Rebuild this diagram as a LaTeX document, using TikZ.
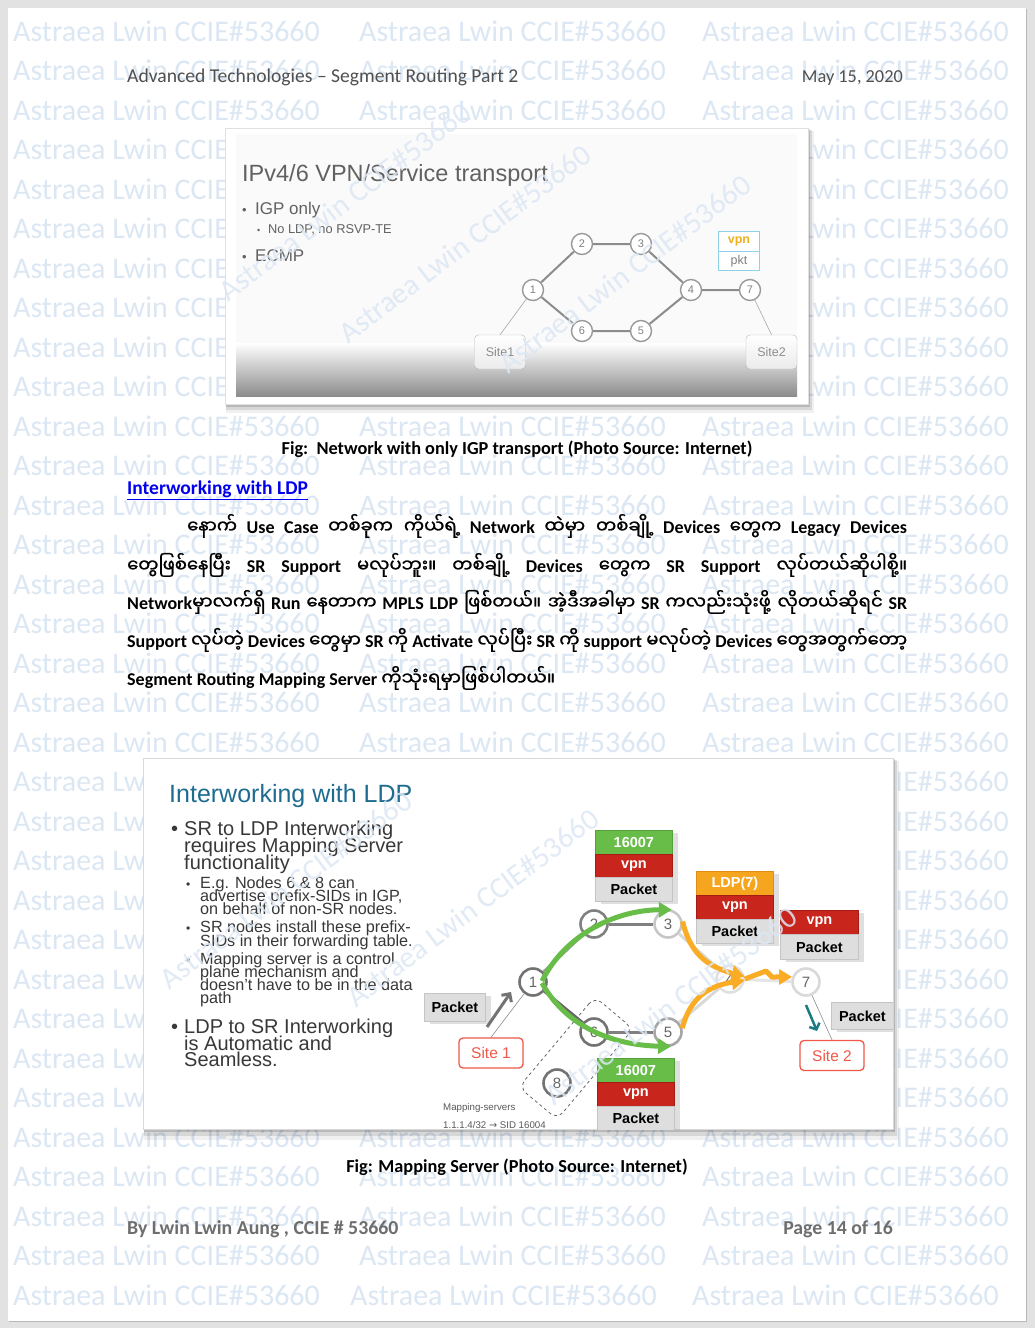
\documentclass[tikz,border=0pt]{standalone}
\usepackage{fontspec}
\setmainfont{Carlito}
\newfontfamily\arialf{Liberation Sans}
\newfontfamily\mmfont[Script=Myanmar,AutoFakeBold=1.2]{Noto Sans Myanmar UI}
\newfontfamily\dvs{DejaVu Sans}
\usetikzlibrary{arrows.meta,shadows,calc}
\definecolor{wm}{RGB}{220,231,244}
\definecolor{pageg}{RGB}{226,226,226}
\definecolor{hdr}{RGB}{80,80,80}
\definecolor{ftr}{RGB}{110,110,110}
\definecolor{linkb}{RGB}{0,0,238}
\definecolor{slidet}{RGB}{31,108,145}
\definecolor{gr}{RGB}{104,189,73}
\definecolor{grd}{RGB}{84,160,58}
\definecolor{rd}{RGB}{200,38,28}
\definecolor{rdd}{RGB}{165,28,20}
\definecolor{og}{RGB}{246,166,30}
\definecolor{ogd}{RGB}{225,140,20}
\definecolor{pk}{RGB}{222,222,222}
\definecolor{pkd}{RGB}{196,196,196}
\definecolor{site}{RGB}{240,88,72}
\definecolor{tealc}{RGB}{26,122,128}
\definecolor{arr}{RGB}{249,172,36}
\definecolor{vpnb}{RGB}{140,210,232}
\definecolor{vpno}{RGB}{240,176,30}
\tikzset{
  wmk/.style={anchor=west,inner sep=0pt,text=wm,font=\fontsize{30}{30}\selectfont},
  wmd/.style={anchor=west,inner sep=0pt,text=wm,rotate=37,opacity=.85,font=\fontsize{30}{30}\selectfont},
  bodytxt/.style={anchor=base west,inner sep=0pt,font=\bfseries\fontsize{18}{18}\selectfont},
  tslide/.style={anchor=base west,inner sep=0pt,text=black!62},
  tnode/.style={circle,draw=black!40,line width=1.4pt,fill=white,minimum size=21pt,inner sep=0pt,text=black!50,font=\arialf\fontsize{11}{11}\selectfont},
  tlink/.style={line width=2pt,draw=black!45},
  tsite/.style={rounded corners=4pt,draw=black!28,top color=white,bottom color=black!8,minimum width=51pt,minimum height=34pt,inner sep=0pt,text=black!45,font=\arialf\fontsize{12.5}{12.5}\selectfont},
  tvp/.style={draw=vpnb,line width=1.3pt,fill=white,minimum width=41pt,minimum height=19.5pt,inner sep=0pt,font=\arialf\fontsize{12.5}{12.5}\selectfont},
  bmain/.style={anchor=base west,inner sep=0pt,text=black!78,font=\arialf\fontsize{20}{20}\selectfont},
  bsub/.style={anchor=base west,inner sep=0pt,text=black!78,font=\arialf\fontsize{16.2}{16.2}\selectfont},
  bnode/.style={circle,line width=2.6pt,fill=white,minimum size=27pt,inner sep=0pt,text=black!60,font=\arialf\fontsize{15}{15}\selectfont},
  stk/.style={anchor=north west,minimum width=77pt,minimum height=23.5pt,inner sep=0pt,line width=.8pt,font=\arialf\bfseries\fontsize{14.5}{14.5}\selectfont,drop shadow={shadow xshift=6pt,shadow yshift=-3pt,opacity=.25}},
  sgreen/.style={stk,fill=gr,draw=grd,text=white},
  sred/.style={stk,fill=rd,draw=rdd,text=white},
  sorange/.style={stk,fill=og,draw=ogd,text=white},
  sgray/.style={stk,fill=pk,draw=pkd,text=black},
  bsite/.style={rounded corners=4pt,draw=site,line width=1.3pt,fill=white,text=site,minimum width=64pt,minimum height=30pt,inner sep=0pt,font=\arialf\fontsize{15.5}{15.5}\selectfont},
  garr/.style={line width=5pt,draw=gr,-{Triangle[length=13pt,width=15pt]}},
  oarr/.style={line width=5pt,draw=arr,line join=round,-{Triangle[length=13pt,width=15pt]}},
  blink/.style={line width=3pt}
}
\begin{document}
\begin{tikzpicture}[x=1pt,y=-1pt]
\useasboundingbox (0,0) rectangle (1035,1328);
\fill[pageg] (0,0) rectangle (1035,1328);
\fill[black!28] (9,9) rectangle (1027,1322);
\fill[white] (8,8) rectangle (1026,1321);

% ---------- page watermark ----------
\foreach \r in {0,...,31}{
  \foreach \c/\k in {13/a,359/b,702/c}{
    \node[wmk] (wm-\r-\k) at ({\c},{31+39.5*\r}) {Astraea Lwin CCIE\#53660};
  }
}
\foreach \c/\k in {13/a,350/b,692/c}{
  \node[wmk] (wm-32-\k) at ({\c},1295) {Astraea Lwin CCIE\#53660};
}

% ---------- header ----------
\node[anchor=base west,inner sep=0pt,text=hdr,font=\fontsize{19.6}{19.6}\selectfont] (hdrL) at (127,82) {Advanced Technologies – Segment Routing Part 2};
\node[anchor=base east,inner sep=0pt,text=hdr,font=\fontsize{18.3}{18.3}\selectfont] (hdrR) at (903,82) {May 15, 2020};

% ---------- top figure ----------
\fill[black,opacity=.06] (226,131) rectangle (814,413);
\fill[black,opacity=.10] (226,130) rectangle (812,410);
\fill[black,opacity=.14] (226,129) rectangle (810,407);
\fill[white] (225,128) rectangle (808,404);
\draw[black!12] (225,128) rectangle (808,404);
\fill[black!2] (236,134) rectangle (797,396);
\shade[top color=white,bottom color=black!45] (236,343) rectangle (797,396);

\node[tslide,font=\arialf\fontsize{23.5}{23.5}\selectfont] (ttl) at (242,181) {IPv4/6 VPN/Service transport};
\node[tslide,font=\arialf\fontsize{13}{13}\selectfont] (tbu1) at (242,214) {•};
\node[tslide,font=\arialf\fontsize{17}{17}\selectfont] (tb1) at (255,214) {IGP only};
\node[tslide,font=\arialf\fontsize{9}{9}\selectfont] (tbu2) at (257,233) {•};
\node[tslide,font=\arialf\fontsize{12.8}{12.8}\selectfont] (tb2) at (268,233) {No LDP, no RSVP-TE};
\node[tslide,font=\arialf\fontsize{13}{13}\selectfont] (tbu3) at (242,261) {•};
\node[tslide,font=\arialf\fontsize{17}{17}\selectfont] (tb3) at (255,261) {ECMP};

\node[tnode] (t1) at (533,290) {1};
\node[tnode] (t2) at (582,244) {2};
\node[tnode] (t3) at (641,244) {3};
\node[tnode] (t4) at (691,290) {4};
\node[tnode] (t7) at (750,290) {7};
\node[tnode] (t6) at (582,331) {6};
\node[tnode] (t5) at (641,331) {5};
\node[tsite] (ts1) at (500,352) {Site1};
\node[tsite] (ts2) at (771.5,352) {Site2};
\draw[tlink] (t1)--(t2) (t2)--(t3) (t3)--(t4) (t1)--(t6) (t6)--(t5) (t5)--(t4) (t4)--(t7);
\draw[black!35,line width=.6pt] (t1)--(ts1.north) (t7)--(ts2.north);
\node[tvp,text=vpno,font=\arialf\bfseries\fontsize{12.5}{12.5}\selectfont] (tvpn) at (739,241.5) {vpn};
\node[tvp,text=black!50] (tpkt) at (739,261) {pkt};

% ---------- caption 1, heading, paragraph ----------
\node[anchor=base,inner sep=0pt,font=\bfseries\fontsize{18.3}{18.3}\selectfont] (cap1) at (517,454) {Fig:\ \ Network with only IGP transport (Photo Source: Internet)};
\node[anchor=base west,inner sep=0pt,text=linkb,font=\bfseries\fontsize{19.5}{19.5}\selectfont] (link) at (127,494) {\underline{Interworking with LDP}};

\node[bodytxt] (p1) at (187,533) {\makebox[720pt][s]{{\mmfont နောက်} Use Case {\mmfont တစ်ခုက ကိုယ်ရဲ့} Network {\mmfont ထဲမှာ တစ်ချို့} Devices {\mmfont တွေက} Legacy Devices}};
\node[bodytxt] (p2) at (127,572) {\makebox[780pt][s]{{\mmfont တွေဖြစ်နေပြီး} SR Support {\mmfont မလုပ်ဘူး။} {\mmfont တစ်ချို့} Devices {\mmfont တွေက} SR Support {\mmfont လုပ်တယ်ဆိုပါစို့။}}};
\node[bodytxt] (p3) at (127,609) {\makebox[780pt][s]{Network{\mmfont မှာလက်ရှိ} Run {\mmfont နေတာက} MPLS LDP {\mmfont ဖြစ်တယ်။ အဲ့ဒီအခါမှာ} SR {\mmfont ကလည်းသုံးဖို့ လိုတယ်ဆိုရင်} SR}};
\node[bodytxt] (p4) at (127,647) {\makebox[780pt][s]{Support {\mmfont လုပ်တဲ့} Devices {\mmfont တွေမှာ} SR {\mmfont ကို} Activate {\mmfont လုပ်ပြီး} SR {\mmfont ကို} support {\mmfont မလုပ်တဲ့} Devices {\mmfont တွေအတွက်တော့}}};
\node[bodytxt] (p5) at (127,685) {Segment Routing Mapping Server {\mmfont ကိုသုံးရမှာဖြစ်ပါတယ်။}};

% ---------- bottom figure ----------
\fill[black,opacity=.06] (144,761) rectangle (899,1140);
\fill[black,opacity=.10] (144,760) rectangle (897,1136);
\fill[black,opacity=.14] (144,759) rectangle (895,1132);
\fill[white] (143,758) rectangle (893,1129);
\draw[black!15] (143,758) rectangle (893,1129);
\begin{scope}
\clip (143,758) rectangle (893,1129);
\node[anchor=base west,inner sep=0pt,text=slidet,font=\arialf\fontsize{25}{25}\selectfont] (btl) at (169,802) {Interworking with LDP};
\node[bmain] (bu1) at (171,835) {•};
\node[bmain] (m1a) at (184,835) {SR to LDP Interworking};
\node[bmain] (m1b) at (184,852) {requires Mapping Server};
\node[bmain] (m1c) at (184,869) {functionality};
\node[bsub,font=\arialf\fontsize{12}{12}\selectfont] (su1) at (186,888) {•};
\node[bsub] (s1a) at (200,888) {E.g. Nodes 6 \& 8 can};
\node[bsub] (s1b) at (200,901.5) {advertise prefix-SIDs in IGP,};
\node[bsub] (s1c) at (200,914.5) {on behalf of non-SR nodes.};
\node[bsub,font=\arialf\fontsize{12}{12}\selectfont] (su2) at (186,932.5) {•};
\node[bsub] (s2a) at (200,932.5) {SR nodes install these prefix-};
\node[bsub] (s2b) at (200,946) {SIDs in their forwarding table.};
\node[bsub,font=\arialf\fontsize{12}{12}\selectfont] (su3) at (186,964) {•};
\node[bsub] (s3a) at (200,964) {Mapping server is a control};
\node[bsub] (s3b) at (200,977) {plane mechanism and};
\node[bsub] (s3c) at (200,990.5) {doesn’t have to be in the data};
\node[bsub] (s3d) at (200,1003.5) {path};
\node[bmain] (bu2) at (171,1033.5) {•};
\node[bmain] (m2a) at (184,1033.5) {LDP to SR Interworking};
\node[bmain] (m2b) at (184,1050) {is Automatic and};
\node[bmain] (m2c) at (184,1066.5) {Seamless.};

% dashed mapping-server group
\node[draw=black!60,dashed,line width=.8pt,rounded corners=9pt,minimum width=118pt,minimum height=50pt,rotate=50,inner sep=0pt] (msbox) at (576,1058) {};

% nodes
\node[bnode,draw=black!55] (b1) at (533,982) {1};
\node[bnode,draw=black!50] (b2) at (594,924) {2};
\node[bnode,draw=black!22] (b3) at (668,924) {3};
\node[bnode,draw=black!12] (b4) at (730,979) {4};
\node[bnode,draw=black!15] (b7) at (806,982) {7};
\node[bnode,draw=black!55] (b6) at (594,1032) {6};
\node[bnode,draw=black!35] (b5) at (668,1032) {5};
\node[bnode,draw=black!55] (b8) at (557,1083) {8};

\draw[blink,black!40] (b1)--(b2);
\draw[blink,black!50] (b2)--(b3);
\draw[blink,black!60] (b1)--(b6);
\draw[blink,black!50] (b6)--(b5);
\draw[blink,black!15] (b3)--(b4);
\draw[blink,black!15] (b5)--(b4);
\draw[blink,black!10] (b4)--(b7);

% sites, packets
\node[bsite] (bs1) at (491,1053) {Site 1};
\node[bsite] (bs2) at (832,1055.5) {Site 2};
\draw[black!45,line width=.6pt] (b1)--(bs1.north);
\draw[black!45,line width=.6pt] (b7)--(bs2.north);
\node[sgray,minimum width=61pt,minimum height=28pt] (pL) at (424,993) {Packet};
\node[sgray,minimum width=62pt,minimum height=27pt] (pR) at (831,1002) {Packet};
\coordinate (ga1) at (487,1027);
\coordinate (ga2) at (511,992);
\draw[line width=3pt,black!55,-{Straight Barb[length=6pt,width=12pt]}] (ga1) -- (ga2);
\coordinate (ta1) at (806,1005);
\coordinate (ta2) at (817,1031);
\draw[line width=2.5pt,tealc,-{Straight Barb[length=5pt,width=11pt]}] (ta1) -- (ta2);

% label stacks
\node[sgreen] (k1a) at (595,830) {16007};
\node[sred] (k1b) at (595,853.5) {vpn};
\node[sgray,minimum height=24pt] (k1c) at (595,877) {Packet};
\node[sorange,minimum height=24pt] (k2a) at (696,871) {LDP(7)};
\node[sred] (k2b) at (696,895) {vpn};
\node[sgray,minimum height=24.5pt] (k2c) at (696,918.5) {Packet};
\node[sred,minimum height=24pt,minimum width=78pt] (k3a) at (780,910) {vpn};
\node[sgray,minimum height=25pt,minimum width=78pt] (k3b) at (780,934) {Packet};
\node[sgreen,minimum height=24pt] (k4a) at (597,1058) {16007};
\node[sred,minimum height=24pt] (k4b) at (597,1082) {vpn};
\node[sgray,minimum height=24pt] (k4c) at (597,1106) {Packet};

% flow arrows
\draw[garr] ($(b1.center)+(9,-1)$) .. controls (565,935) and (615,910) .. (b3.75);
\draw[garr] ($(b1.center)+(9,1)$) .. controls (565,1025) and (610,1045) .. (b5.-78);
\draw[oarr] (b3.10) .. controls (690,952) and (705,966) .. (b4.10);
\draw[oarr] (b5.15) .. controls (690,998) and (708,986) .. (b4.-5);
\draw[oarr] (b4.0) -- (766,971) -- (772,977) -- (b7.160);

\node[anchor=base west,inner sep=0pt,text=black!65,font=\arialf\fontsize{9.7}{9.7}\selectfont] (mst) at (443,1110) {Mapping-servers};
\node[anchor=base west,inner sep=0pt,text=black!65,font=\arialf\fontsize{9.7}{9.7}\selectfont] (msid) at (443,1128) {1.1.1.4/32 {\dvs →} SID 16004};
\end{scope}

% ---------- caption 2, footer ----------
\node[anchor=base,inner sep=0pt,font=\bfseries\fontsize{18.3}{18.3}\selectfont] (cap2) at (517,1172) {Fig: Mapping Server (Photo Source: Internet)};
\node[anchor=base west,inner sep=0pt,text=ftr,font=\bfseries\fontsize{19.8}{19.8}\selectfont] (ftL) at (127,1234) {By Lwin Lwin Aung , CCIE \# 53660};
\node[anchor=base east,inner sep=0pt,text=ftr,font=\bfseries\fontsize{19.8}{19.8}\selectfont] (ftR) at (893,1234) {Page 14 of 16};

% ---------- diagonal watermarks ----------
\foreach \px/\py/\k in {222/294/a,342/336/b,502/366/c,163/982/d,350/1000/e,548/1098/f}{
  \node[wmd] (wd-\k) at (\px,\py) {Astraea Lwin CCIE\#53660};
}
\end{tikzpicture}
\end{document}
